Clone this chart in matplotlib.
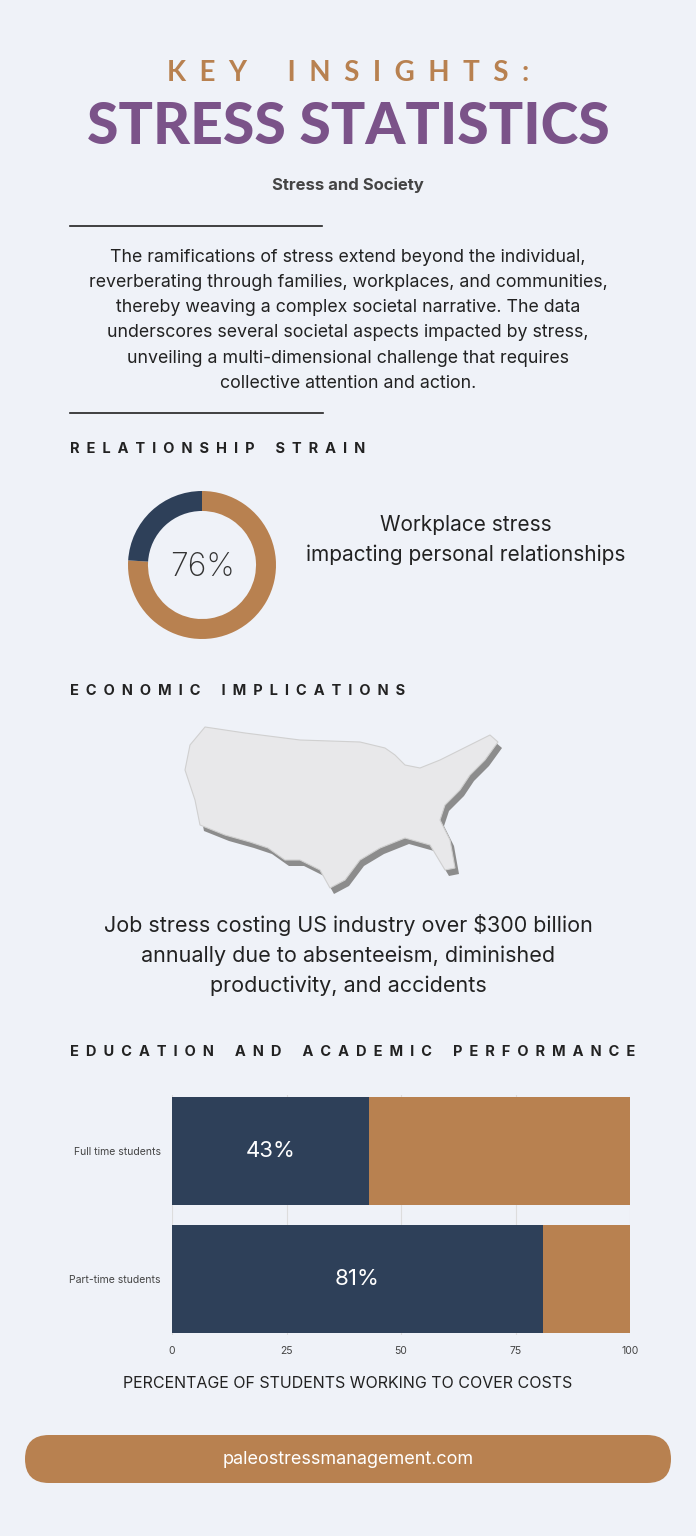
import matplotlib
matplotlib.use("Agg")
import matplotlib.pyplot as plt
from matplotlib.patches import FancyBboxPatch, Polygon
import numpy as np

BG = "#EFF2F8"; NAVY = "#2E4059"; TAN = "#B88150"; PURPLE = "#7B5389"; DARK = "#222222"

donut_value = 76
students = ["Full time students", "Part-time students"]
working_pct = [43, 81]
ticks = [0, 25, 50, 75, 100]

W, H = 696, 1536
fig = plt.figure(figsize=(W/100, H/100), dpi=100, facecolor=BG)
bg = fig.add_axes([0, 0, 1, 1]); bg.set_xlim(0, W); bg.set_ylim(H, 0); bg.axis("off")
FF = ["Inter", "DejaVu Sans"]

def T(x, y, s, **kw):
    kw.setdefault("ha", "center"); kw.setdefault("va", "center"); kw.setdefault("family", FF)
    bg.text(x, y, s, **kw)

def spaced(s, gap=" ", wgap="    "):
    return wgap.join(gap.join(w) for w in s.split(" "))

T(348, 73, spaced("KEY INSIGHTS:", "  ", "      "), fontsize=20, color=TAN, fontweight="bold",
  family=["Lato", "DejaVu Sans"])
T(348, 127, "STRESS STATISTICS", fontsize=41, color=PURPLE, fontweight="black",
  family=["Lato", "DejaVu Sans"])
T(348, 185, "Stress and Society", fontsize=12, color="#444444", fontweight="bold")
bg.plot([70, 322], [226, 226], color=DARK, lw=1.2)
bg.plot([70, 323], [413, 413], color=DARK, lw=1.2)
para = ["The ramifications of stress extend beyond the individual,",
        "reverberating through families, workplaces, and communities,",
        "thereby weaving a complex societal narrative. The data",
        "underscores several societal aspects impacted by stress,",
        "unveiling a multi-dimensional challenge that requires",
        "collective attention and action."]
for i, l in enumerate(para):
    T(348, 257 + i*25.3, l, fontsize=12.8, color=DARK)

def header(y, s):
    T(70, y, spaced(s, "  ", "      "), ha="left", fontsize=10.5, color=DARK, fontweight="bold")
header(449, "RELATIONSHIP STRAIN")
header(691, "ECONOMIC IMPLICATIONS")
header(1052, "EDUCATION AND ACADEMIC PERFORMANCE")

# donut
dax = fig.add_axes([(202-74)/W, 1-(565+74)/H, 148/W, 148/H])
dax.pie([donut_value, 100-donut_value], colors=[TAN, NAVY], startangle=90, counterclock=False,
        radius=1.0, wedgeprops=dict(width=0.27))
dax.set_xlim(-1, 1); dax.set_ylim(-1, 1); dax.set_aspect("equal")
dax.text(0, -0.03, f"{donut_value}%", ha="center", va="center", fontsize=23, color="#333333",
         family=FF, fontweight="light")
T(466, 525, "Workplace stress", fontsize=15, color=DARK)
T(466, 555, "impacting personal relationships", fontsize=15, color=DARK)

# rough US map silhouette (decorative)
us = [(205,727),(245,733),(300,740),(360,742),(385,748),(395,755),(405,765),(420,768),
      (440,760),(470,745),(490,735),(498,742),(485,760),(470,775),(460,790),(445,805),
      (440,820),(450,840),(455,868),(445,870),(430,845),(405,838),(380,848),(360,860),
      (345,880),(330,888),(320,870),(300,860),(285,860),(268,848),(250,842),(225,835),
      (200,825),(195,800),(185,770),(190,745)]
shadow = [(x+4, y+6) for x, y in us]
bg.add_patch(Polygon(shadow, closed=True, fc="#8C8C8C", ec="none"))
bg.add_patch(Polygon(us, closed=True, fc="#E8E8EA", ec="#D0D0D0", lw=0.8))

for i, l in enumerate(["Job stress costing US industry over $300 billion",
                       "annually due to absenteeism, diminished",
                       "productivity, and accidents"]):
    T(348, 925 + i*30.5, l, fontsize=15.5, color=DARK)

# bars
bax = fig.add_axes([172/W, 1-1335/H, (630-172)/W, (1335-1095)/H], facecolor=BG)
y = np.arange(len(students))
bax.barh(y, [100]*2, color=TAN, height=0.84, zorder=2)
bax.barh(y, working_pct, color=NAVY, height=0.84, zorder=3)
for yi, v in zip(y, working_pct):
    bax.text(v/2, yi, f"{v}%", color="white", ha="center", va="center", fontsize=16, family=FF, zorder=4)
bax.set_xlim(0, 100); bax.set_ylim(1.4375, -0.4375)
bax.set_yticks(y); bax.set_yticklabels(students, fontsize=7.5, color="#444444", family=FF)
bax.set_xticks(ticks); bax.set_xticklabels([str(t) for t in ticks], fontsize=7.5, color="#444444", family=FF)
bax.tick_params(length=0, pad=8)
for s in bax.spines.values(): s.set_visible(False)
bax.grid(axis="x", color="#DDDDDD", lw=0.8, zorder=0)
T(348, 1384, "PERCENTAGE OF STUDENTS WORKING TO COVER COSTS", fontsize=11.5, color=DARK)

bg.add_patch(FancyBboxPatch((25, 1435), 646, 48, boxstyle="round,pad=0,rounding_size=24",
                            fc=TAN, ec="none"))
T(348, 1459, "paleostressmanagement.com", fontsize=13, color="white")
fig.savefig("out.png", dpi=100, facecolor=BG)
